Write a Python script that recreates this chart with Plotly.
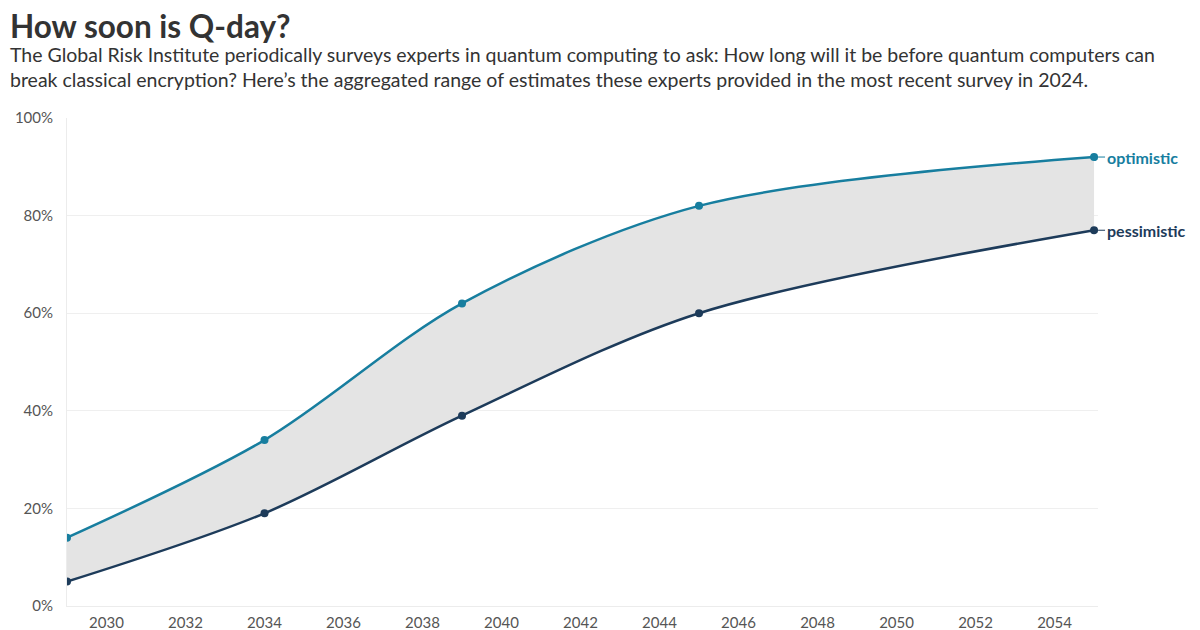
#!/usr/bin/env python3

"""
how soon is q-day -- expert estimate range
"""

import plotly.graph_objects as go

# survey years and aggregated estimate bounds (percent)
years = [2029, 2034, 2039, 2045, 2055]
optimistic = [14, 34, 62, 82, 92]
pessimistic = [5, 19, 39, 60, 77]

y_tickvals = [0, 20, 40, 60, 80, 100]
y_ticktext = ["0%", "20%", "40%", "60%", "80%", "100%"]
x_tickvals = list(range(2030, 2055, 2))

COL_OPT = "#177e9f"  # teal
COL_PES = "#1d3b5a"  # navy
COL_FILL = "#e4e4e4"
COL_TEXT = "#333333"
FONT = "Lato, 'Open Sans', sans-serif"

# the page body adds an 8px offset, so margins are trimmed to compensate
W, H = 1200, 630
L, R, T, B = 59, 110, 110, 32
plot_w = W - L - R

fig = go.Figure()

# pessimistic first so the optimistic trace can fill down to it
fig.add_trace(
    go.Scatter(
        x=years,
        y=pessimistic,
        mode="lines+markers",
        name="pessimistic",
        line=dict(color=COL_PES, width=2.5, shape="spline", smoothing=0.9),
        marker=dict(size=8, color=COL_PES),
        showlegend=False,
    )
)
fig.add_trace(
    go.Scatter(
        x=years,
        y=optimistic,
        mode="lines+markers",
        name="optimistic",
        fill="tonexty",
        fillcolor=COL_FILL,
        line=dict(color=COL_OPT, width=2.5, shape="spline", smoothing=0.9),
        marker=dict(size=8, color=COL_OPT),
        showlegend=False,
    )
)

# end labels with a short connector
for label, vals, color in [
    ("optimistic", optimistic, COL_OPT),
    ("pessimistic", pessimistic, COL_PES),
]:
    fig.add_annotation(
        x=years[-1],
        y=vals[-1],
        text=f"<b>{label}</b>",
        showarrow=True,
        arrowhead=0,
        arrowwidth=1,
        arrowcolor=color,
        ax=11,
        ay=0,
        xanchor="left",
        standoff=4,
        font=dict(size=16, color=color, family=FONT),
    )

# title and subtitle
fig.add_annotation(
    xref="paper",
    yref="paper",
    x=0,
    y=1,
    xshift=-58,
    yshift=72,
    xanchor="left",
    yanchor="bottom",
    align="left",
    text="<b>How soon is Q-day?</b>",
    showarrow=False,
    borderpad=0,
    font=dict(size=31.5, color=COL_TEXT, family=FONT),
)
fig.add_annotation(
    xref="paper",
    yref="paper",
    x=0,
    y=1,
    xshift=-58,
    yshift=26,
    xanchor="left",
    yanchor="bottom",
    align="left",
    text=(
        "The Global Risk Institute periodically surveys experts in quantum computing "
        "to ask: How long will it be before quantum computers can<br>"
        "break classical encryption? Here\u2019s the aggregated range of estimates "
        "these experts provided in the most recent survey in 2024."
    ),
    showarrow=False,
    borderpad=0,
    font=dict(size=19.5, color=COL_TEXT, family=FONT),
)

# thin frame line near the right image edge
fig.add_shape(
    type="line",
    xref="paper",
    yref="paper",
    x0=1 + 97 / plot_w,
    x1=1 + 97 / plot_w,
    y0=-0.1,
    y1=1.3,
    line=dict(color="#e2e2e2", width=1),
)

fig.update_xaxes(
    range=[2029, 2055.1],
    tickvals=x_tickvals,
    showgrid=False,
    showline=True,
    linecolor="#ececec",
    zeroline=False,
    ticks="",
    automargin=False,
    tickfont=dict(size=15, color="#555555", family=FONT),
    ticklabelstandoff=3,
)
fig.update_yaxes(
    range=[0, 100],
    tickvals=y_tickvals,
    ticktext=y_ticktext,
    showgrid=True,
    gridcolor="#efefef",
    showline=True,
    linecolor="#ececec",
    zeroline=False,
    ticks="",
    automargin=False,
    tickfont=dict(size=15, color="#555555", family=FONT),
    ticklabelstandoff=10,
)
fig.update_layout(
    width=W,
    height=H,
    plot_bgcolor="white",
    paper_bgcolor="white",
    font=dict(family=FONT, color=COL_TEXT),
    margin=dict(l=L, r=R, t=T, b=B, autoexpand=False),
)
fig.write_html("out.html")
